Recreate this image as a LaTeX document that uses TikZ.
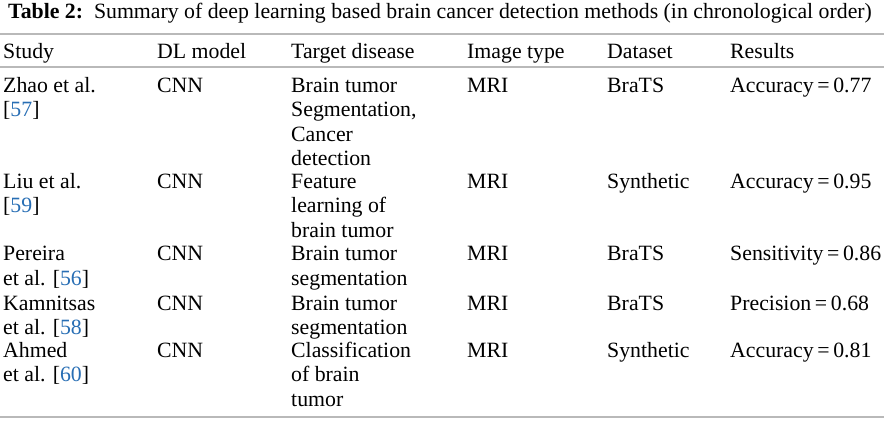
\documentclass[tikz,border=0pt]{standalone}
\usepackage{fontspec}
\setmainfont{Liberation Serif}
\definecolor{refblue}{RGB}{40,110,180}
\definecolor{rulegray}{RGB}{185,185,185}
\newcommand{\rf}[1]{[\textcolor{refblue}{#1}]}
\begin{document}
\begin{tikzpicture}[x=1pt,y=-1pt,
  cell/.style={anchor=base west,inner sep=0pt,align=left,font=\fontsize{21.8}{24.5}\selectfont},
  hrule/.style={draw=rulegray,line width=1.2pt}]
\useasboundingbox (0,0) rectangle (884,421);
\node[cell] (title) at (8,18) {\textbf{Table 2:}\ \ Summary of deep learning based brain cancer detection methods (in chronological order)};
\coordinate (tl) at (0,34); \coordinate (tr) at (884,34);
\coordinate (ml) at (0,67); \coordinate (mr) at (884,67);
\coordinate (bl) at (0,417); \coordinate (br) at (884,417);
\draw[hrule] (tl)--(tr); \draw[hrule] (ml)--(mr); \draw[hrule] (bl)--(br);
\foreach \t/\x [count=\i] in {Study/3,DL model/157,Target disease/291,Image type/467,Dataset/607,Results/730}
  \node[cell] (h\i) at (\x,58) {\t};
% rows (multi-line cells: base = last line)
\node[cell] (s1) at (3,116.5) {Zhao et al.\\\rf{57}};
\node[cell] (m1) at (157,92) {CNN};
\node[cell] (t1) at (291,165.5) {Brain tumor\\Segmentation,\\Cancer\\detection};
\node[cell] (i1) at (467,92) {MRI};
\node[cell] (d1) at (607,92) {BraTS};
\node[cell] (r1) at (730,92) {Accuracy\,=\,0.77};
\node[cell] (s2) at (3,212.5) {Liu et al.\\\rf{59}};
\node[cell] (m2) at (157,188) {CNN};
\node[cell] (t2) at (291,237) {Feature\\learning of\\brain tumor};
\node[cell] (i2) at (467,188) {MRI};
\node[cell] (d2) at (607,188) {Synthetic};
\node[cell] (r2) at (730,188) {Accuracy\,=\,0.95};
\node[cell] (s3) at (3,285) {Pereira\\et al. \rf{56}};
\node[cell] (m3) at (157,260) {CNN};
\node[cell] (t3) at (291,285) {Brain tumor\\segmentation};
\node[cell] (i3) at (467,260) {MRI};
\node[cell] (d3) at (607,260) {BraTS};
\node[cell] (r3) at (730,260) {Sensitivity\,=\,0.86};
\node[cell] (s4) at (3,334.5) {Kamnitsas\\et al. \rf{58}};
\node[cell] (m4) at (157,310) {CNN};
\node[cell] (t4) at (291,334.5) {Brain tumor\\segmentation};
\node[cell] (i4) at (467,310) {MRI};
\node[cell] (d4) at (607,310) {BraTS};
\node[cell] (r4) at (730,310) {Precision\,=\,0.68};
\node[cell] (s5) at (3,381.5) {Ahmed\\et al. \rf{60}};
\node[cell] (m5) at (157,357) {CNN};
\node[cell] (t5) at (291,406) {Classification\\of brain\\tumor};
\node[cell] (i5) at (467,357) {MRI};
\node[cell] (d5) at (607,357) {Synthetic};
\node[cell] (r5) at (730,357) {Accuracy\,=\,0.81};
\end{tikzpicture}
\end{document}
